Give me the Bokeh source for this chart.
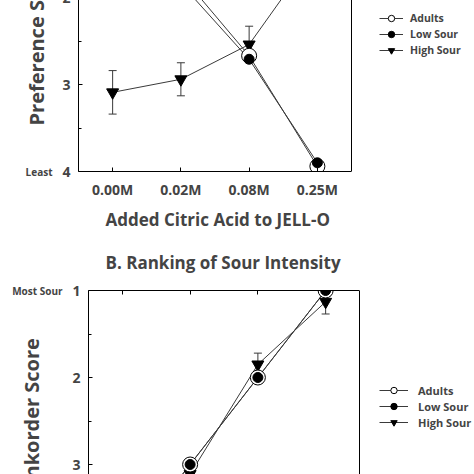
from bokeh.plotting import figure
from bokeh.models import (ColumnDataSource, Range1d, FixedTicker, LinearAxis,
                          Whisker, TeeHead, Legend, LegendItem, Span, Title)
from bokeh.layouts import column
from bokeh.embed import file_html
from bokeh.resources import INLINE

# ---------------- data ----------------
concs = ["0.00M", "0.02M", "0.08M", "0.25M"]

# Panel A: preference ranking (1 = most, 4 = least)
pref_adults = [1.65, 1.74, 2.67, 3.94]
pref_low = [1.55, 1.84, 2.71, 3.90]
pref_high = [3.09, 2.94, 2.54, 1.44]
pref_high_err = [0.25, 0.19, 0.21, 0.20]

# Panel B: ranking of sour intensity (1 = most sour)
rank_adults = [4.00, 3.00, 2.00, 1.00]
rank_low = [4.00, 3.00, 2.00, 1.00]
rank_high = [3.91, 3.11, 1.85, 1.13]
rank_high_err = [0.15, 0.14, 0.13, 0.14]

y_ticks = [1, 2, 3, 4]
y_minor = [1.5, 2.5, 3.5]

FONT = "Open Sans"
LINE = "#3a3a3a"

xpos = list(range(1, len(concs) + 1))
x_lo, x_hi = 0.5, len(concs) + 0.5
LEFT = 88


def build(adults, low, high, err, ylabel, unit_px,
          top_border, bottom_border, margin, leg_xy, leg_glyph_w, leg_gap,
          leg_font, end_tick, end_text, label_standoff,
          title=None, show_x=True, top_line=False):
    src = ColumnDataSource(dict(
        x=xpos, adults=adults, low=low, high=high,
        upper=[h - e for h, e in zip(high, err)],
        lower=[h + e for h, e in zip(high, err)],
    ))
    frame_w = 474 - LEFT
    p = figure(x_range=Range1d(x_lo, x_lo + frame_w / unit_px),
               y_range=Range1d(4, 1),
               width=474, frame_height=261,
               min_border_left=LEFT, min_border_right=0,
               min_border_top=top_border, min_border_bottom=bottom_border,
               output_backend="svg", toolbar_location=None, margin=margin)
    p.xgrid.visible = False
    p.ygrid.visible = False
    p.outline_line_color = None
    p.background_fill_color = "white"
    p.border_fill_color = "white"

    if title:
        p.title.text = title
        p.title.align = "left"
        p.title.offset = 17
        p.title.text_font = FONT
        p.title.text_font_style = "bold"
        p.title.text_font_size = "17px"
        p.title.standoff = 34

    # right border of the plotting box
    p.add_layout(Span(location=x_hi, dimension="height",
                      line_color="black", line_width=1))
    if top_line:
        ta = LinearAxis(bounds=(x_lo, x_hi), ticker=FixedTicker(ticks=[]),
                        major_label_text_font_size="0px",
                        axis_line_color="black")
        p.add_layout(ta, "above")

    # inner y axis: numbers only
    ya = p.yaxis[0]
    ya.ticker = FixedTicker(ticks=y_ticks, minor_ticks=y_minor)
    ya.major_tick_in = 4
    ya.major_tick_out = 0
    ya.minor_tick_in = 3
    ya.minor_tick_out = 0
    ya.axis_line_color = "black"
    ya.major_label_text_font = FONT
    ya.major_label_text_font_style = "bold"
    ya.major_label_text_font_size = "14px"
    ya.major_label_standoff = 8

    # outer y axis: end-of-scale word and the axis title
    oa = LinearAxis(ticker=FixedTicker(ticks=[end_tick], minor_ticks=[]),
                    major_label_overrides={end_tick: end_text},
                    axis_line_color=None, major_tick_line_color=None,
                    minor_tick_line_color=None,
                    major_label_standoff=1,
                    major_label_text_font=FONT,
                    major_label_text_font_style="bold",
                    major_label_text_font_size="10px",
                    axis_label=ylabel, axis_label_text_font=FONT,
                    axis_label_text_font_style="bold",
                    axis_label_text_font_size="20px",
                    axis_label_standoff=label_standoff)
    p.add_layout(oa, "left")

    # x axis
    xa = p.xaxis[0]
    xa.ticker = FixedTicker(ticks=xpos, minor_ticks=[])
    xa.major_label_overrides = {i: c for i, c in zip(xpos, concs)}
    xa.bounds = (x_lo, x_hi)
    xa.major_tick_in = 4
    xa.major_tick_out = 0
    xa.minor_tick_in = 0
    xa.minor_tick_out = 0
    xa.axis_line_color = "black"
    if show_x:
        xa.major_label_text_font = FONT
        xa.major_label_text_font_style = "bold"
        xa.major_label_text_font_size = "14px"
        xa.major_label_standoff = 8
        p.add_layout(Title(text="Added Citric Acid to JELL-O", align="left",
                           offset=27, standoff=8, text_font=FONT,
                           text_font_style="bold", text_font_size="17px"),
                     "below")
    else:
        xa.major_label_text_font_size = "0px"

    # error bars (drawn beneath the markers)
    w = Whisker(base="x", upper="upper", lower="lower", source=src,
                line_color=LINE, line_width=1, level="underlay",
                upper_head=TeeHead(size=8, line_color=LINE, line_width=1),
                lower_head=TeeHead(size=8, line_color=LINE, line_width=1))
    p.add_layout(w)

    lh = p.line("x", "high", source=src, line_color=LINE, line_width=1)
    la = p.line("x", "adults", source=src, line_color=LINE, line_width=1)
    ll = p.line("x", "low", source=src, line_color=LINE, line_width=1)
    sh = p.scatter("x", "high", source=src, marker="inverted_triangle", size=12,
                   fill_color="black", line_color="black")
    sa = p.scatter("x", "adults", source=src, marker="circle", size=15,
                   fill_color="white", line_color="black", line_width=1)
    sl = p.scatter("x", "low", source=src, marker="circle", size=10,
                   fill_color="black", line_color="black")

    legend = Legend(items=[
        LegendItem(label="Adults", renderers=[la, sa]),
        LegendItem(label="Low Sour", renderers=[ll, sl]),
        LegendItem(label="High Sour", renderers=[lh, sh]),
    ], location=leg_xy, padding=0, margin=0, spacing=0,
        glyph_width=leg_glyph_w, glyph_height=16, label_height=16,
        label_standoff=leg_gap,
        border_line_color=None, background_fill_alpha=0,
        label_text_font=FONT, label_text_font_style="bold",
        label_text_font_size=leg_font)
    p.add_layout(legend)
    return p


p1 = build(pref_adults, pref_low, pref_high, pref_high_err, "Preference Score",
           68.25, 10, 70, (-100, 0, 0, -10), (301, 113), 24, 7, "10.5px",
           4, "Least", -27)
p2 = build(rank_adults, rank_low, rank_high, rank_high_err, "Rankorder Score",
           67.75, 57, 10, (-10, 0, 0, 0), (291, 121), 29, 10, "11px",
           1, "Most Sour", -36,
           title="B. Ranking of Sour Intensity", show_x=False, top_line=True)

layout = column(p1, p2, spacing=0)
open("out.html", "w").write(file_html(layout, INLINE))
